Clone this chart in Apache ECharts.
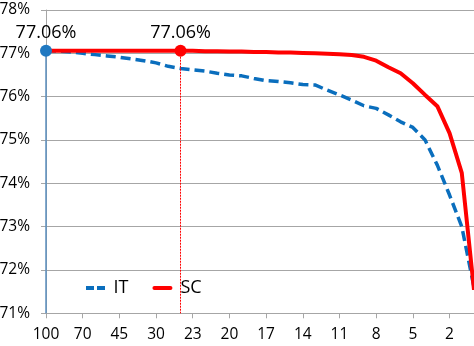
<!DOCTYPE html>
<html>
<head>
<meta charset="utf-8">
<script src="https://cdn.jsdelivr.net/npm/echarts@6/dist/echarts.min.js"></script>
<style>
  html, body { margin: 0; padding: 0; background: #ffffff; }
  #chart { width: 474px; height: 346px; }
</style>
</head>
<body>
<div id="chart"></div>
<script>
// Pruning levels along the x axis (every third one is labelled)
const categories = ['100','90','80','70','60','50','45','40','35','30','27','25','23','22','21','20','19','18','17','16','15','14','13','12','11','10','9','8','7','6','5','4','3','2','1','0'];

// Accuracy (%) for each method
const itValues = [77.06, 77.05, 77.03, 77.00, 76.97, 76.94, 76.91, 76.87, 76.83, 76.78, 76.70, 76.65,
                  76.62, 76.59, 76.54, 76.50, 76.48, 76.42, 76.37, 76.35, 76.32, 76.28, 76.27, 76.15,
                  76.04, 75.92, 75.79, 75.73, 75.58, 75.42, 75.29, 75.00, 74.42, 73.73, 73.00, 71.60];
const scValues = [77.06, 77.06, 77.06, 77.06, 77.06, 77.06, 77.06, 77.06, 77.06, 77.06, 77.06, 77.06,
                  77.06, 77.05, 77.05, 77.04, 77.04, 77.03, 77.03, 77.02, 77.02, 77.01, 77.00, 76.99,
                  76.98, 76.96, 76.92, 76.83, 76.68, 76.54, 76.31, 76.04, 75.78, 75.16, 74.24, 71.54];

// Y axis range and step (percent)
const yMin = 71, yMax = 78, yStep = 1;

// Highlighted points: last level that keeps the full accuracy
const itMarkIndex = 0;
const scMarkIndex = 11;

const FONT = 'Open Sans';
const IT_COLOR = '#0a6ebd';
const SC_COLOR = '#ff0000';

function highlight(name, idx, values, pointColor, dropColor, dropType, dropWidth) {
  return {
    name: name + '-mark',
    type: 'scatter',
    z: 5,
    symbol: 'circle',
    symbolSize: 12,
    itemStyle: { color: pointColor, opacity: 1 },
    label: {
      show: true,
      position: 'top',
      distance: 3,
      formatter: p => p.value[1].toFixed(2) + '%',
      fontFamily: FONT,
      fontSize: 18,
      color: '#000000',
      opacity: 1
    },
    emphasis: { disabled: true },
    data: [[categories[idx], values[idx]]],
    markLine: {
      silent: true,
      symbol: 'none',
      animation: false,
      label: { show: false },
      lineStyle: { color: dropColor, type: dropType, width: dropWidth, opacity: 1 },
      data: [[
        { coord: [categories[idx], values[idx]] },
        { coord: [categories[idx], yMin] }
      ]]
    }
  };
}

const chart = echarts.init(document.getElementById('chart'), null, { renderer: 'canvas' });

chart.setOption({
  animation: false,
  backgroundColor: '#ffffff',
  grid: {
    left: 46, right: 0, top: 10, bottom: 32.7,
    containLabel: false,
    outerBoundsMode: 'none'
  },
  legend: {
    data: [
      { name: 'IT', icon: 'path://M0,0h8v4h-8z M11,0h8v4h-8z', itemStyle: { color: IT_COLOR } },
      { name: 'SC', icon: 'path://M2,0h16a2,2 0 0 1 0,4h-16a2,2 0 0 1 0,-4z', itemStyle: { color: SC_COLOR } }
    ],
    left: 81,
    top: 274,
    itemWidth: 20,
    itemHeight: 4,
    itemGap: 24,
    textStyle: { fontFamily: FONT, fontSize: 18, color: '#000000', padding: [0, 0, 0, 3] }
  },
  xAxis: {
    type: 'category',
    data: categories,
    boundaryGap: false,
    axisLine: { show: true, lineStyle: { color: '#a6a6a6', width: 1 } },
    axisTick: { show: true, interval: 2, length: 5, lineStyle: { color: '#a6a6a6' } },
    axisLabel: {
      interval: 2,
      margin: 13,
      fontFamily: FONT,
      fontSize: 15.5,
      color: '#000000'
    },
    splitLine: { show: false }
  },
  yAxis: {
    type: 'value',
    min: yMin,
    max: yMax,
    interval: yStep,
    axisLine: { show: true, lineStyle: { color: '#a6a6a6', width: 1 } },
    axisTick: { show: true, length: 5, lineStyle: { color: '#a6a6a6' } },
    axisLabel: {
      formatter: '{value}%',
      margin: 16,
      fontFamily: FONT,
      fontSize: 15.5,
      color: '#000000'
    },
    splitLine: { show: true, lineStyle: { color: '#a6a6a6', width: 1 } }
  },
  series: [
    {
      name: 'IT',
      type: 'line',
      data: itValues,
      symbol: 'none',
      smooth: false,
      z: 3,
      color: IT_COLOR,
      lineStyle: { color: IT_COLOR, width: 3.5, type: [10, 5] }
    },
    {
      name: 'SC',
      type: 'line',
      data: scValues,
      symbol: 'none',
      smooth: false,
      z: 4,
      color: SC_COLOR,
      lineStyle: { color: SC_COLOR, width: 4 }
    },
    highlight('IT', itMarkIndex, itValues, '#1f78c1', '#5b8fbf', 'solid', 1.5),
    highlight('SC', scMarkIndex, scValues, '#ff0000', '#ff0000', [2, 1], 1)
  ]
});
</script>
</body>
</html>
